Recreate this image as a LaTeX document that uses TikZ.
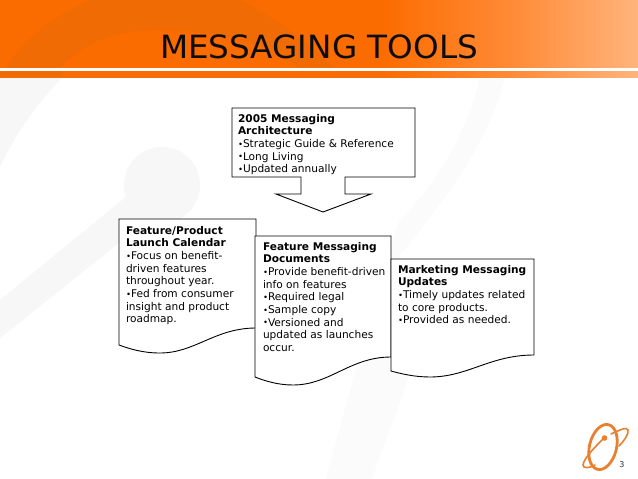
\documentclass[tikz,border=0pt]{standalone}
\usepackage{fontspec}
\setmainfont{DejaVu Sans}
\definecolor{bannerA}{HTML}{FB6C00}
\definecolor{bannerB}{HTML}{FF8A36}
\definecolor{bannerC}{HTML}{FFB47C}
\definecolor{bannerD}{HTML}{F16B04}
\definecolor{wm}{HTML}{F7F7F7}
\definecolor{wmlight}{HTML}{FBFBFB}
\definecolor{logoc}{HTML}{E9802F}
\pgfdeclarehorizontalshading{bannershade}{100bp}{
  color(0bp)=(bannerA); color(55bp)=(bannerA); color(65bp)=(bannerB); color(75bp)=(bannerC); color(100bp)=(bannerC)}
\tikzset{
  x=1pt,y=-1pt,
  outline/.style={draw=black,fill=white,line width=0.9pt,line join=miter},
  body/.style={anchor=north west,inner sep=0pt,outer sep=0pt,align=left,font=\fontsize{10.6}{12.7}\selectfont,text=black},
  titletext/.style={font=\fontsize{32}{36}\selectfont,text=black!95,inner sep=0pt,xscale=1.02},
  wmfill/.style={fill=wm},
  wmsoft/.style={fill=wmlight},
  logoring/.style={draw=logoc,fill=none,line cap=round}
}
\newcommand{\bul}{{\fontsize{8.5}{8.5}\selectfont\raisebox{.4pt}{•}}}
\begin{document}
\begin{tikzpicture}
\useasboundingbox (0,0) rectangle (638,479);
\fill[white] (0,0) rectangle (638,479);
% watermark
\begin{scope}
\clip (0,77) rectangle (638,479);
\fill[wmfill] (0,77) -- (63,77) .. controls (35,105) and (15,135) .. (0,167) -- cycle;
\fill[wmfill] (162,185) circle (38);
\fill[wmfill] (127,196) -- (0,300) -- (0,338) -- (150,218) -- cycle;
\fill[wmsoft] (480,77) .. controls (468,130) and (440,180) .. (400,220) .. controls (385,260) and (365,320) .. (357,365) .. controls (345,410) and (335,445) .. (326,479) -- (372,479) .. controls (385,440) and (398,410) .. (408,378) .. controls (405,330) and (402,290) .. (400,255) .. controls (445,200) and (490,140) .. (505,77) -- cycle;
\end{scope}
% banner
\shade[shading=bannershade] (0,0) rectangle (638,68);
\fill[bannerD,even odd rule]
  (5,68) .. controls (25,38) and (55,15) .. (90,0) -- (240,0) .. controls (270,15) and (305,40) .. (335,68) -- cycle
  (60,68) .. controls (85,42) and (115,31) .. (150,30) .. controls (210,29) and (260,40) .. (300,68) -- cycle;
\fill[white] (0,68) rectangle (638,71);
\shade[shading=bannershade] (0,71) rectangle (638,77);
\fill[bannerD] (0,71) rectangle (63,77);
\node[titletext] (title) at (319,47) {MESSAGING TOOLS};
% documents
\draw[outline] (119,219) -- (256,219) -- (256,328) .. controls (215,328) and (195,353) .. (160,353) .. controls (143,353) and (130,349) .. (119,345) -- cycle;
\draw[outline] (255,236) -- (391,236) -- (391,357) .. controls (350,357) and (330,385) .. (293,385) .. controls (278,385) and (265,381) .. (255,377) -- cycle;
\draw[outline] (391,259) -- (534,259) -- (534,355) .. controls (490,355) and (468,377) .. (430,377) .. controls (415,377) and (402,374) .. (391,371) -- cycle;
% callout
\draw[outline] (232,108) -- (415,108) -- (415,177) -- (345,177) -- (345,194) -- (371,194) -- (323,212) -- (276,194) -- (301,194) -- (301,177) -- (232,177) -- cycle;
% texts
\node[body] (arch) at (238,114) {\textbf{2005 Messaging}\\\textbf{Architecture}\\\bul Strategic Guide \& Reference\\\bul Long Living\\\bul Updated annually};
\node[body] (cal) at (126,226) {\textbf{Feature/Product}\\\textbf{Launch Calendar}\\\bul Focus on benefit-\\driven features\\throughout year.\\\bul Fed from consumer\\insight and product\\roadmap.};
\node[body] (feat) at (263,242) {\textbf{Feature Messaging}\\\textbf{Documents}\\\bul Provide benefit-driven\\info on features\\\bul Required legal\\\bul Sample copy\\\bul Versioned and\\updated as launches\\occur.};
\node[body] (mkt) at (398,265) {\textbf{Marketing Messaging}\\\textbf{Updates}\\\bul Timely updates related\\to core products.\\\bul Provided as needed.};
% logo
\draw[logoring,line width=2.8pt] (603,447) ellipse [x radius=13.5,y radius=23,rotate=-14];
\fill[logoc] (604.5,438) circle (2.8);
\draw[logoring,line width=1.6pt] (604,438) .. controls (595,447) and (584,458) .. (583,465) .. controls (583,469) and (590,468) .. (595,465);
\draw[logoring,line width=1.6pt] (611,434) .. controls (618,431) and (627,426) .. (628,430) .. controls (629,434) and (624,441) .. (619,446);
\node[inner sep=0pt,font=\fontsize{8}{8}\selectfont,text=black!80] (pagenum) at (622,465) {3};
\end{tikzpicture}
\end{document}
